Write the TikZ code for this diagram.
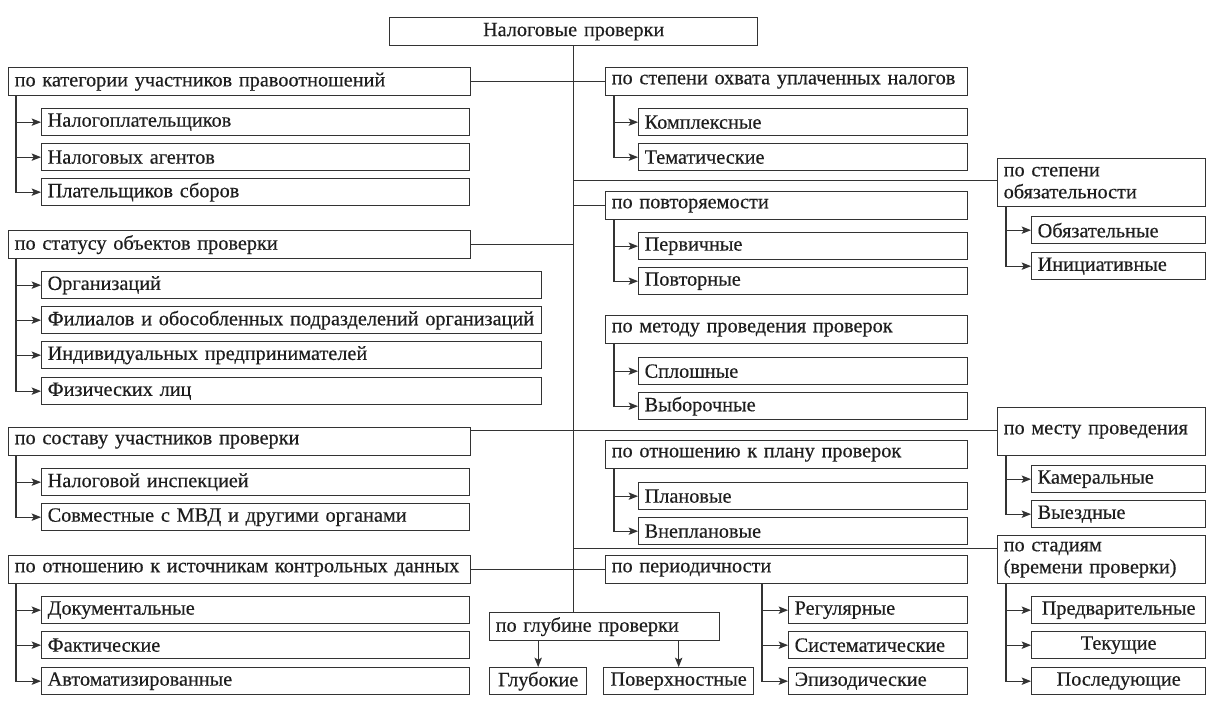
\documentclass[tikz,border=0pt]{standalone}
\usepackage{fontspec}
\setmainfont{Liberation Serif}[FakeBold=0.35]
\usetikzlibrary{arrows.meta,calc}
\definecolor{lc}{HTML}{333333}
\definecolor{tc}{HTML}{1E1E1E}
\newcommand\Bx[7]{%
  \pgfmathsetmacro\bxtw{(#4)*0.75-9}%
  \node[box, text width=\bxtw pt, minimum height=#5*0.75pt, align=#6] (#1) at (#2,#3) {#7};}
\tikzset{
  box/.style={draw=lc, line width=1pt, inner xsep=4.5pt, inner ysep=0pt, anchor=north west, text=tc, font=\fontsize{15.2}{16.5}\selectfont},
  conn/.style={draw=lc, line width=0.85pt},
  arr/.style={conn, -{Stealth[length=7pt,width=5.5pt,inset=1.5pt]}},
}
\begin{document}
\begin{tikzpicture}[x=0.75pt,y=-0.75pt]
\fill[white] (0,0) rectangle (1214,702);
\useasboundingbox (0,0) rectangle (1214,702);
\Bx{top}{389}{17}{368}{28}{center}{Налоговые проверки}
% left
\Bx{L1}{8}{67}{462}{28}{left}{по категории участников правоотношений}
\Bx{L1a}{41}{108}{428}{27}{left}{Налогоплательщиков}
\Bx{L1b}{41}{143}{428}{27}{left}{Налоговых агентов}
\Bx{L1c}{41}{178}{428}{27}{left}{Плательщиков сборов}
\Bx{L2}{8}{230}{462}{28}{left}{по статусу объектов проверки}
\Bx{L2a}{41}{271}{500}{27}{left}{Организаций}
\Bx{L2b}{41}{306}{500}{27}{left}{Филиалов и обособленных подразделений организаций}
\Bx{L2c}{41}{341}{500}{27}{left}{Индивидуальных предпринимателей}
\Bx{L2d}{41}{377}{500}{27}{left}{Физических лиц}
\Bx{L3}{8}{427}{462}{28}{left}{по составу участников проверки}
\Bx{L3a}{41}{468}{428}{27}{left}{Налоговой инспекцией}
\Bx{L3b}{41}{503}{428}{27}{left}{Совместные с МВД и другими органами}
\Bx{L4}{8}{555}{462}{28}{left}{по отношению к источникам контрольных данных}
\Bx{L4a}{41}{596}{428}{27}{left}{Документальные}
\Bx{L4b}{41}{631}{428}{27}{left}{Фактические}
\Bx{L4c}{41}{667}{428}{27}{left}{Автоматизированные}
% middle
\Bx{M1}{605}{67}{362}{28}{left}{по степени охвата уплаченных налогов}
\Bx{M1a}{638}{108}{329}{27}{left}{Комплексные}
\Bx{M1b}{638}{143}{329}{27}{left}{Тематические}
\Bx{M2}{605}{191}{362}{28}{left}{по повторяемости}
\Bx{M2a}{638}{232}{329}{27}{left}{Первичные}
\Bx{M2b}{638}{267}{329}{27}{left}{Повторные}
\Bx{M3}{605}{315}{362}{28}{left}{по методу проведения проверок}
\Bx{M3a}{638}{357}{329}{27}{left}{Сплошные}
\Bx{M3b}{638}{392}{329}{27}{left}{Выборочные}
\Bx{M4}{605}{440}{362}{28}{left}{по отношению к плану проверок}
\Bx{M4a}{638}{482}{329}{27}{left}{Плановые}
\Bx{M4b}{638}{517}{329}{27}{left}{Внеплановые}
\Bx{M5}{605}{555}{362}{28}{left}{по периодичности}
\Bx{M5a}{788}{596}{179}{27}{left}{Регулярные}
\Bx{M5b}{788}{631}{179}{27}{left}{Систематические}
\Bx{M5c}{788}{667}{179}{27}{left}{Эпизодические}
% depth
\Bx{D}{489}{612}{230}{28}{left}{по глубине проверки}
\Bx{Da}{489}{667}{97}{27}{center}{Глубокие}
\Bx{Db}{603}{667}{150}{27}{center}{Поверхностные}
% right
\Bx{R1}{997}{158}{208}{48}{left}{по степени\\обязательности}
\Bx{R1a}{1031}{216}{174}{27}{left}{Обязательные}
\Bx{R1b}{1031}{252}{174}{27}{left}{Инициативные}
\Bx{R2}{997}{407}{208}{48}{left}{по месту проведения}
\Bx{R2a}{1031}{465}{174}{27}{left}{Камеральные}
\Bx{R2b}{1031}{500}{174}{27}{left}{Выездные}
\Bx{R3}{997}{535}{208}{48}{left}{по стадиям\\(времени проверки)}
\Bx{R3a}{1031}{596}{174}{27}{center}{Предварительные}
\Bx{R3b}{1031}{631}{174}{27}{center}{Текущие}
\Bx{R3c}{1031}{667}{174}{27}{center}{Последующие}
% helper coordinates
\coordinate (r1c) at ($(R1.west)+(0,-2)$);
\coordinate (l3c) at ($(L3.east)+(0,-11)$);
\coordinate (r3c) at ($(R3.west)+(0,-11)$);
% trunk and branches
\draw[conn] (top.south) -- (top.south |- D.north);
\draw[conn] (L1.east) -- (M1.west);
\draw[conn] (L2.east) -- (L2.east -| top.south);
\draw[conn] (M2.west -| top.south) -- (M2.west);
\draw[conn] (r1c -| top.south) -- (r1c);
\draw[conn] (l3c) -- (l3c -| R2.west);
\draw[conn] (r3c -| top.south) -- (r3c);
\draw[conn] (L4.east) -- (M5.west);
% children
\foreach \p/\c in {L1/L1a,L1/L1b,L1/L1c,L2/L2a,L2/L2b,L2/L2c,L2/L2d,L3/L3a,L3/L3b,L4/L4a,L4/L4b,L4/L4c}
  \draw[arr] ($(\p.south west)+(8,0)$) |- (\c.west);
\foreach \p/\c in {M1/M1a,M1/M1b,M2/M2a,M2/M2b,M3/M3a,M3/M3b,M4/M4a,M4/M4b,R1/R1a,R1/R1b,R2/R2a,R2/R2b,R3/R3a,R3/R3b,R3/R3c}
  \draw[arr] ($(\p.south west)+(9,0)$) |- (\c.west);
\foreach \c in {M5a,M5b,M5c}
  \draw[arr] ($(M5.south west)+(157,0)$) |- (\c.west);
\draw[arr] (Da.north |- D.south) -- (Da.north);
\draw[arr] (Db.north |- D.south) -- (Db.north);
\end{tikzpicture}
\end{document}
